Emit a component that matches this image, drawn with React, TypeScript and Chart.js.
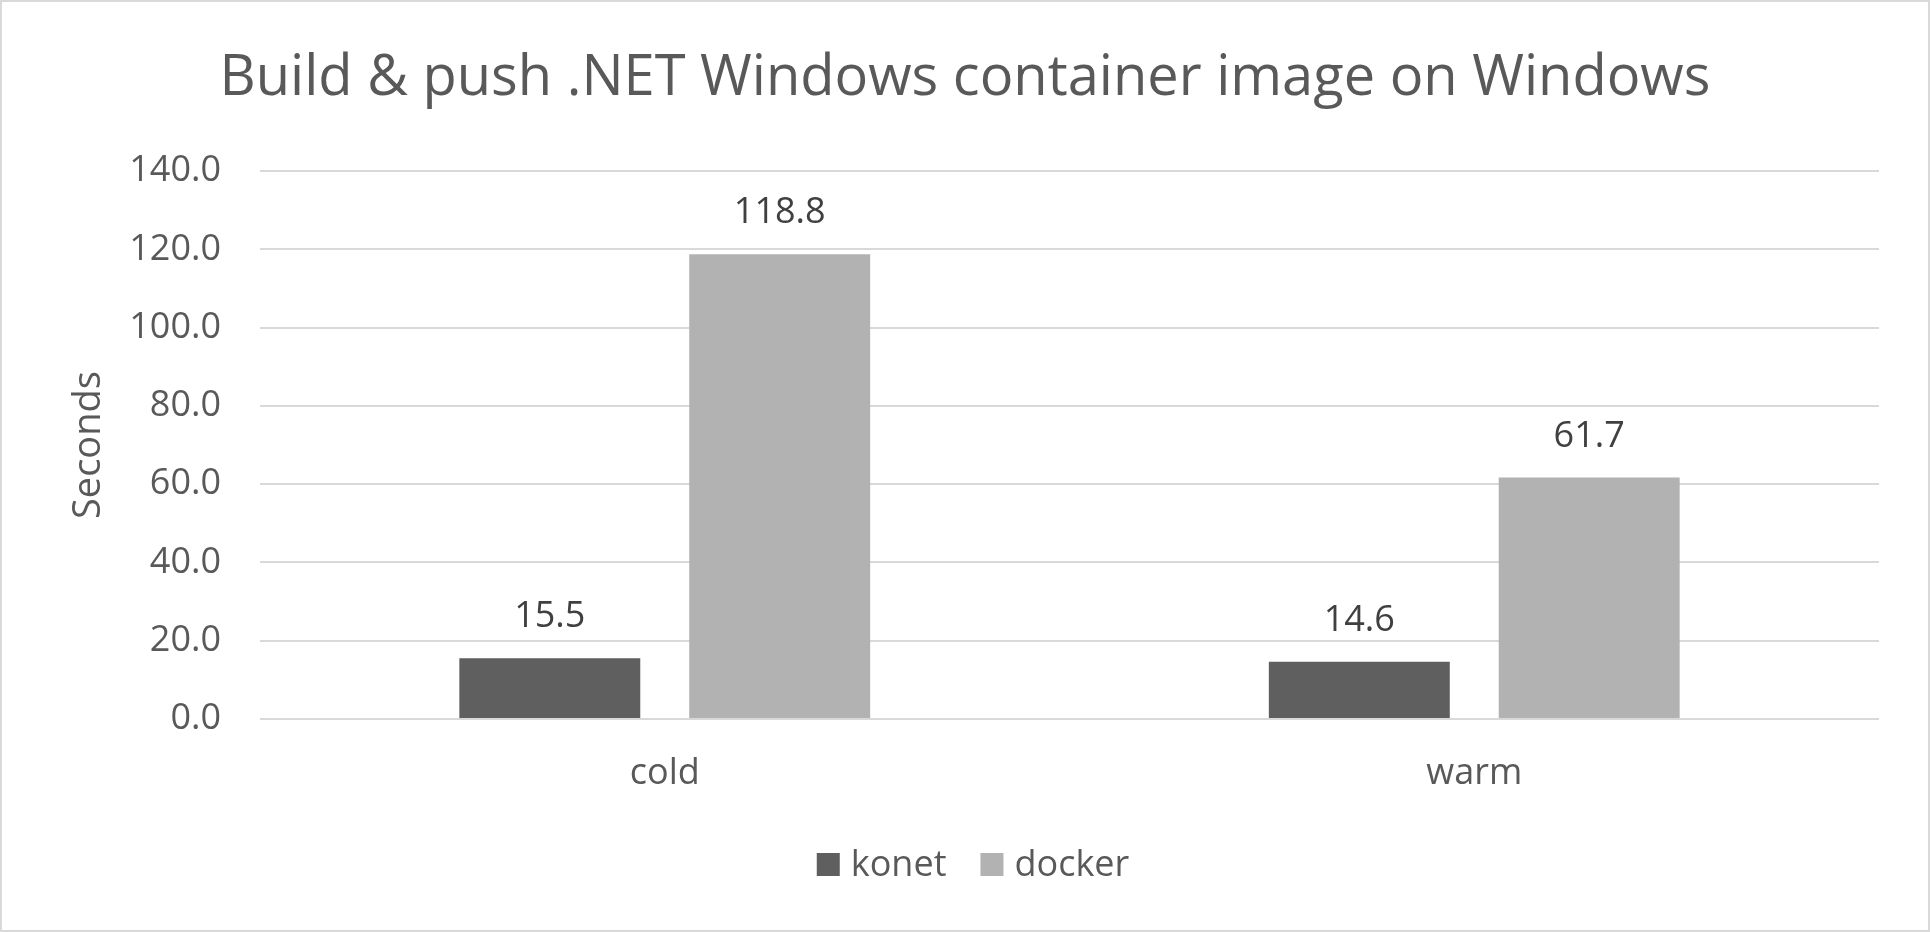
import { useEffect, useRef } from 'react'
import { Chart, registerables } from 'chart.js'

Chart.register(...registerables)

const categories = ['cold', 'warm']
const konet = [15.5, 14.6]
const docker = [118.8, 61.7]
const yTicks = [0, 20, 40, 60, 80, 100, 120, 140]

const FONT = "'Open Sans', sans-serif"
const TEXT = '#595959'
const GRID = '#d9d9d9'

// value above each bar, like Excel data labels
const valueLabels = {
  id: 'valueLabels',
  afterDatasetsDraw(chart: Chart) {
    const { ctx } = chart
    ctx.save()
    ctx.font = `36px ${FONT}`
    ctx.fillStyle = '#404040'
    ctx.textAlign = 'center'
    ctx.textBaseline = 'alphabetic'
    chart.data.datasets.forEach((ds, i) => {
      chart.getDatasetMeta(i).data.forEach((bar, j) => {
        ctx.fillText((ds.data[j] as number).toFixed(1), bar.x, bar.y - 31)
      })
    })
    ctx.restore()
  },
}

// Excel-style legend: square swatch, tight gap to the text, centred under the chart
const excelLegend = {
  id: 'excelLegend',
  afterDraw(chart: Chart) {
    const { ctx } = chart
    const box = 23
    const gap = 11
    const spacing = 34
    const baseline = chart.chartArea.bottom + 157
    ctx.save()
    ctx.font = `36px ${FONT}`
    ctx.textBaseline = 'alphabetic'
    ctx.textAlign = 'left'
    const items = chart.data.datasets.map(ds => ({
      text: ds.label as string,
      color: ds.backgroundColor as string,
      w: ctx.measureText(ds.label as string).width,
    }))
    const total = items.reduce((s, it) => s + box + gap + it.w, 0) + spacing * (items.length - 1)
    let x = chart.width / 2 + 8 - total / 2
    items.forEach(it => {
      ctx.fillStyle = it.color
      ctx.fillRect(x, baseline - box, box, box)
      ctx.fillStyle = TEXT
      ctx.fillText(it.text, x + box + gap, baseline)
      x += box + gap + it.w + spacing
    })
    ctx.restore()
  },
}

export default function App() {
  const canvasRef = useRef<HTMLCanvasElement>(null)

  useEffect(() => {
    if (!canvasRef.current) return
    const chart = new Chart(canvasRef.current, {
      type: 'bar',
      data: {
        labels: categories,
        datasets: [
          { label: 'konet', data: konet, backgroundColor: '#5f5f5f', categoryPercentage: 0.568, barPercentage: 0.787 },
          { label: 'docker', data: docker, backgroundColor: '#b2b2b2', categoryPercentage: 0.568, barPercentage: 0.787 },
        ],
      },
      options: {
        animation: false,
        responsive: true,
        maintainAspectRatio: false,
        layout: { padding: { top: 0, left: 0, right: 0, bottom: 131 } },
        plugins: {
          title: {
            display: true,
            text: 'Build & push .NET Windows container image on Windows',
            color: TEXT,
            font: { family: FONT, size: 56, weight: 'normal' },
            padding: { top: 43, bottom: 59 },
          },
          legend: { display: false },
          tooltip: { enabled: false },
        },
        scales: {
          x: {
            afterFit: s => { s.height = 80 },
            grid: { display: false },
            border: { display: false },
            ticks: { color: TEXT, font: { family: FONT, size: 36 }, padding: 25 },
          },
          y: {
            min: 0,
            max: 140,
            afterBuildTicks: s => { s.ticks = yTicks.map(v => ({ value: v })) },
            afterFit: s => { s.width = 258 },
            grid: { color: GRID, lineWidth: 2, drawTicks: false },
            border: { display: false },
            ticks: {
              color: TEXT,
              font: { family: FONT, size: 36 },
              padding: 39,
              callback: v => Number(v).toFixed(1),
            },
            title: {
              display: true,
              text: 'Seconds',
              color: TEXT,
              font: { family: FONT, size: 38 },
              padding: { top: 64, bottom: 0 },
            },
          },
          // empty right margin, kept as a scale so the title stays centred on the canvas
          yRight: {
            position: 'right',
            grid: { display: false },
            border: { display: false },
            ticks: { display: false },
            afterFit: s => { s.width = 49 },
          },
        },
      },
      plugins: [valueLabels, excelLegend],
    })
    return () => { chart.destroy() }
  }, [])

  return (
    <div style={{ position: 'fixed', left: 0, top: 0, width: 1930, height: 932, boxSizing: 'border-box', border: `2px solid ${GRID}`, background: '#fff' }}>
      <div style={{ position: 'relative', width: 1926, height: 928 }}>
        <canvas ref={canvasRef} />
      </div>
    </div>
  )
}
